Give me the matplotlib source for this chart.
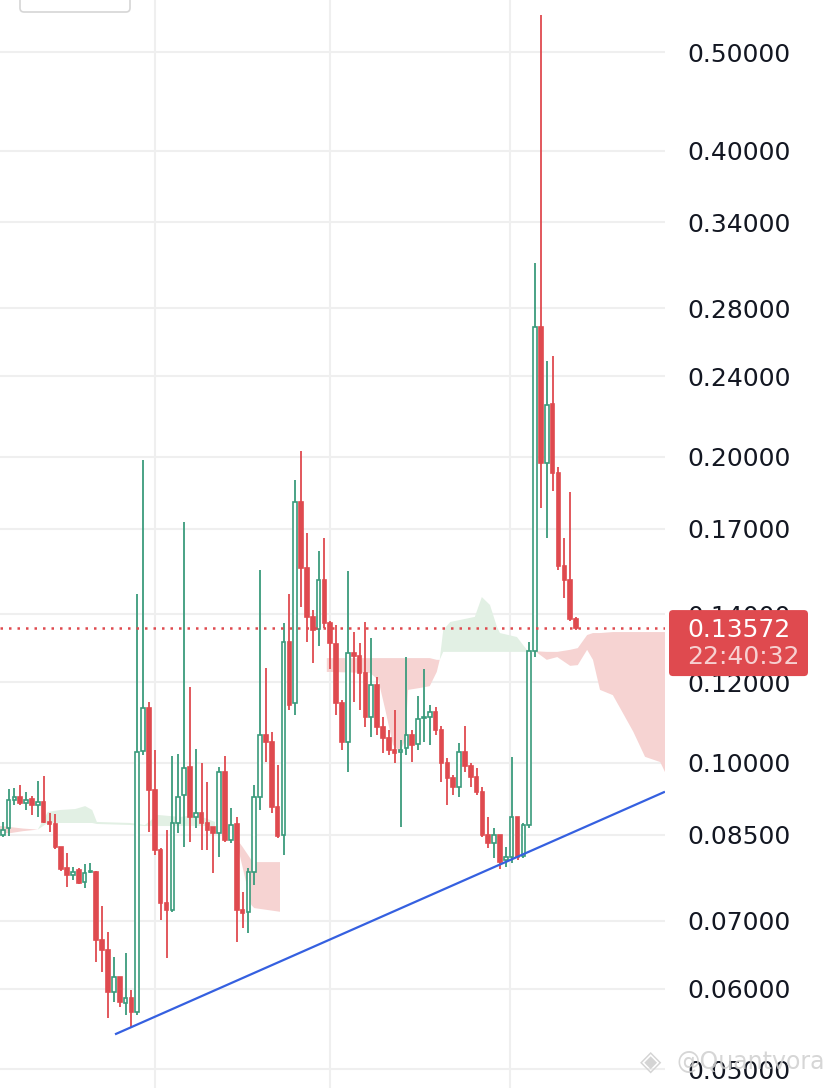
import numpy as np
import matplotlib
matplotlib.use("Agg")
import matplotlib.pyplot as plt
from matplotlib.patches import FancyBboxPatch
from matplotlib.ticker import FixedLocator, FuncFormatter, NullLocator
from matplotlib.transforms import IdentityTransform

# daily candles (oldest -> newest)
opens = [0.0850, 0.0863, 0.0920, 0.0926, 0.0914, 0.0922, 0.0909, 0.0916, 0.0875, 0.0871,
         0.0827, 0.0789, 0.0776, 0.0785, 0.0764, 0.0781, 0.0781, 0.0670, 0.0655, 0.0595,
         0.0616, 0.0581, 0.0587, 0.0569, 0.1028, 0.1133, 0.0941, 0.0821, 0.0728, 0.0717,
         0.0873, 0.0930, 0.0991, 0.0885, 0.0893, 0.0873, 0.0865, 0.0853, 0.0980, 0.0840,
         0.0871, 0.0717, 0.0714, 0.0781, 0.0926, 0.1065, 0.1049, 0.0905, 0.0850, 0.1315,
         0.1146, 0.1806, 0.1555, 0.1392, 0.1354, 0.1513, 0.1373, 0.1309, 0.1146, 0.1049,
         0.1283, 0.1274, 0.1226, 0.1110, 0.1193, 0.1085, 0.1058, 0.1030, 0.1025, 0.1035,
         0.1065, 0.1044, 0.1107, 0.1110, 0.1123, 0.1078, 0.1000, 0.0967, 0.0947, 0.1025,
         0.0993, 0.0969, 0.0937, 0.0850, 0.0834, 0.0850, 0.0803, 0.0808, 0.0885, 0.0810,
         0.0869, 0.1289, 0.2684, 0.1972, 0.2255, 0.1928, 0.1562, 0.1513, 0.1385]
highs = [0.0875, 0.0943, 0.0945, 0.0951, 0.0937, 0.0928, 0.0960, 0.0971, 0.0893, 0.0891,
         0.0827, 0.0816, 0.0790, 0.0789, 0.0796, 0.0798, 0.0783, 0.0723, 0.0682, 0.0645,
         0.0616, 0.0650, 0.0598, 0.1466, 0.1986, 0.1148, 0.1030, 0.0825, 0.0859, 0.1016,
         0.1021, 0.1727, 0.1188, 0.1032, 0.1000, 0.0958, 0.0865, 0.0991, 0.1016, 0.0903,
         0.0885, 0.0746, 0.0789, 0.0951, 0.1548, 0.1240, 0.1073, 0.0995, 0.1373, 0.1466,
         0.1898, 0.2026, 0.1683, 0.1414, 0.1616, 0.1664, 0.1379, 0.1367, 0.1153, 0.1544,
         0.1345, 0.1312, 0.1376, 0.1327, 0.1215, 0.1110, 0.1078, 0.1128, 0.1053, 0.1271,
         0.1078, 0.1164, 0.1237, 0.1140, 0.1135, 0.1087, 0.1011, 0.0973, 0.1046, 0.1087,
         0.1000, 0.0989, 0.0947, 0.0885, 0.0863, 0.0850, 0.0827, 0.1014, 0.0885, 0.0873,
         0.1315, 0.3105, 0.5438, 0.2487, 0.2513, 0.1955, 0.1664, 0.1847, 0.1392]
lows = [0.0846, 0.0848, 0.0909, 0.0909, 0.0899, 0.0889, 0.0885, 0.0873, 0.0855, 0.0823,
        0.0783, 0.0755, 0.0767, 0.0760, 0.0754, 0.0780, 0.0637, 0.0623, 0.0561, 0.0582,
        0.0576, 0.0565, 0.0549, 0.0565, 0.1018, 0.0855, 0.0812, 0.0701, 0.0643, 0.0714,
        0.0853, 0.0827, 0.0836, 0.0863, 0.0821, 0.0821, 0.0779, 0.0808, 0.0836, 0.0834,
        0.0667, 0.0688, 0.0681, 0.0759, 0.0899, 0.1002, 0.0893, 0.0844, 0.0812, 0.1128,
        0.1115, 0.1424, 0.1315, 0.1254, 0.1303, 0.1357, 0.1237, 0.1115, 0.1030, 0.0980,
        0.1148, 0.1128, 0.1085, 0.1061, 0.1065, 0.1023, 0.1018, 0.1000, 0.0865, 0.1018,
        0.1002, 0.1030, 0.1049, 0.1042, 0.1065, 0.0958, 0.0909, 0.0930, 0.0926, 0.0980,
        0.0947, 0.0930, 0.0846, 0.0825, 0.0806, 0.0787, 0.0790, 0.0797, 0.0803, 0.0806,
        0.0863, 0.1271, 0.1783, 0.1664, 0.1851, 0.1548, 0.1453, 0.1379, 0.1351]
closes = [0.0859, 0.0920, 0.0926, 0.0914, 0.0920, 0.0909, 0.0916, 0.0875, 0.0871, 0.0827,
          0.0787, 0.0776, 0.0781, 0.0762, 0.0780, 0.0783, 0.0670, 0.0655, 0.0595, 0.0616,
          0.0582, 0.0587, 0.0569, 0.1025, 0.1133, 0.0941, 0.0821, 0.0728, 0.0717, 0.0873,
          0.0926, 0.0989, 0.0885, 0.0893, 0.0873, 0.0859, 0.0853, 0.0980, 0.0840, 0.0869,
          0.0717, 0.0712, 0.0781, 0.0926, 0.1065, 0.1049, 0.0905, 0.0848, 0.1315, 0.1140,
          0.1806, 0.1555, 0.1392, 0.1351, 0.1513, 0.1373, 0.1312, 0.1146, 0.1049, 0.1283,
          0.1274, 0.1226, 0.1110, 0.1193, 0.1085, 0.1058, 0.1030, 0.1023, 0.1030, 0.1065,
          0.1042, 0.1105, 0.1110, 0.1123, 0.1078, 0.1000, 0.0967, 0.0947, 0.1025, 0.0993,
          0.0969, 0.0937, 0.0850, 0.0834, 0.0850, 0.0799, 0.0808, 0.0885, 0.0808, 0.0869,
          0.1289, 0.2684, 0.1972, 0.2251, 0.1928, 0.1562, 0.1513, 0.1385, 0.13572]

# ichimoku cloud edges (bar index, span A, span B); NaN = cloud too thin to show
cloud_idx = [-0.5, 1.2, 3.5, 6.0, 7.7, 9.8, 12.4, 14.1, 15.3, 16.1, 21.8, 24.3, 26.5, 30.3,
             33.2, 36.3, 38.0, 40.0, 41.0, 42.5, 43.0, 47.4, 51.0, 55.4, 62.8, 64.2, 65.4,
             66.7, 67.9, 68.8, 69.3, 71.3, 73.0, 74.2, 74.7, 75.3, 76.5, 80.7, 81.9, 83.3,
             84.5, 85.0, 87.9, 89.6, 91.0, 93.0, 94.8, 97.0, 98.3, 99.9, 100.9, 102.1,
             104.3, 106.0, 107.8, 109.8, 112.4, 113.6]
span_a = [0.0853, 0.0853, 0.0857, 0.0860, 0.0895, 0.0899, 0.0901, 0.0907, 0.0899, 0.0875,
          0.0873, 0.0869, 0.0889, 0.0885, 0.0889, 0.0875, np.nan, 0.0836, 0.0790, 0.0725,
          0.0720, 0.0714, np.nan, 0.1229, 0.1226, 0.1207, 0.1128, 0.1042, 0.1025, 0.1053,
          0.1180, 0.1185, 0.1190, 0.1229, 0.1263, 0.1351, 0.1376, 0.1392, 0.1456, 0.1430,
          0.1360, 0.1342, 0.1330, 0.1292, 0.1288, 0.1263, 0.1271, 0.1246, 0.1248, 0.1292,
          0.1263, 0.1180, 0.1166, 0.1120, 0.1073, 0.1014, 0.1002, 0.0969]
span_b = [0.0867, 0.0865, 0.0862, 0.0860, 0.0873, 0.0873, 0.0873, 0.0873, 0.0873, 0.0871,
          0.0869, 0.0867, 0.0867, 0.0867, 0.0867, 0.0867, np.nan, 0.0842, 0.0827, 0.0803,
          0.0799, 0.0799, np.nan, 0.1268, 0.1268, 0.1268, 0.1268, 0.1268, 0.1268, 0.1268,
          0.1268, 0.1268, 0.1268, 0.1263, 0.1263, 0.1286, 0.1286, 0.1286, 0.1286, 0.1286,
          0.1286, 0.1286, 0.1286, 0.1286, 0.1288, 0.1286, 0.1286, 0.1292, 0.1297, 0.1336,
          0.1342, 0.1342, 0.1345, 0.1345, 0.1345, 0.1345, 0.1345, 0.1345]

# support line drawn on the chart
trend_idx = [19.2, 113.2]
trend_px = [0.0541, 0.0937]

last_price = 0.13572
countdown = "22:40:32"
price_ticks = [0.05, 0.06, 0.07, 0.085, 0.10, 0.12, 0.14, 0.17, 0.20, 0.24, 0.28, 0.34, 0.40, 0.50]
time_grid = [26.0, 56.0, 86.7]

GREEN = '#3a9b7c'
RED = '#df4a4f'

o = np.array(opens); h = np.array(highs); l = np.array(lows); c = np.array(closes)
x = np.arange(len(o))
up = c >= o
top = np.maximum(o, c)
bot = np.minimum(o, c)

W, H = 828, 1088
fig = plt.figure(figsize=(W / 100, H / 100), dpi=100)
ax = fig.add_axes([0, 0, 665 / W, 1])
ax.set_yscale('log')
ax.set_xlim(-0.4615, 113.21)
ax.set_ylim(0.04791, 0.5626)

# cloud
ci = np.array(cloud_idx); sa = np.array(span_a); sb = np.array(span_b)
ax.fill_between(ci, sa, sb, where=sa >= sb, interpolate=True, color='#e2f0e4', lw=0, zorder=1)
ax.fill_between(ci, sa, sb, where=sa < sb, interpolate=True, color='#f6d3d2', lw=0, zorder=1)

# wicks
ax.vlines(x[up], l[up], bot[up], color=GREEN, lw=1.3, zorder=2)
ax.vlines(x[up], top[up], h[up], color=GREEN, lw=1.3, zorder=2)
ax.vlines(x[~up], l[~up], h[~up], color=RED, lw=1.3, zorder=2)
# bodies
ax.bar(x[up], (c - o)[up], bottom=o[up], width=0.62, facecolor='white',
       edgecolor=GREEN, lw=1.2, zorder=3)
ax.bar(x[~up], (o - c)[~up], bottom=c[~up], width=0.62, facecolor=RED,
       edgecolor=RED, lw=1.2, zorder=3)

ax.plot(trend_idx, trend_px, color='#3560e0', lw=1.6, zorder=4, solid_capstyle='butt')
ax.axhline(last_price, color=RED, lw=1.8, ls=(0, (1, 2.4)), zorder=4)

ax.yaxis.set_major_locator(FixedLocator(price_ticks))
ax.yaxis.set_minor_locator(NullLocator())
ax.yaxis.set_major_formatter(FuncFormatter(lambda v, p: f'{v:.5f}'))
ax.yaxis.tick_right()
ax.tick_params(axis='y', length=0, pad=16, labelsize=18, labelcolor='#131722')
ax.xaxis.set_major_locator(FixedLocator(time_grid))
ax.tick_params(axis='x', length=0, labelbottom=False)
ax.grid(True, color='#efefef', lw=1.5, zorder=0)
ax.set_axisbelow(True)
for s in ax.spines.values():
    s.set_visible(False)

# last price tag
fig.canvas.draw()
yp = ax.transData.transform((0, last_price))[1]
tag = FancyBboxPatch((669, yp - 48), 139, 66, boxstyle='round,pad=0,rounding_size=4',
                     transform=IdentityTransform(), fc=RED, ec='none', zorder=5)
fig.patches.append(tag)
fig.text(687, yp - 2, f'{last_price:.5f}', transform=IdentityTransform(), color='white',
         fontsize=18, va='center', ha='left', zorder=6)
fig.text(687, yp - 29, countdown, transform=IdentityTransform(), color='#f7d0d1',
         fontsize=18, va='center', ha='left', zorder=6)

# top-left control outline
box = FancyBboxPatch((20, H - 12), 110, 30, boxstyle='round,pad=0,rounding_size=4',
                     transform=IdentityTransform(), fc='white', ec='#d6d6d6', lw=1.2, zorder=5)
fig.patches.append(box)

# watermark
fig.text(640, 26, '\u25c8', transform=IdentityTransform(), color='#d4d4d4', fontsize=20,
         va='center', ha='left', zorder=7)
fig.text(676, 26, '@Quantvora', transform=IdentityTransform(), color='#cfcfcf', alpha=0.85,
         fontsize=17, va='center', ha='left', zorder=7)

fig.savefig('out.png', dpi=100, facecolor='white')
